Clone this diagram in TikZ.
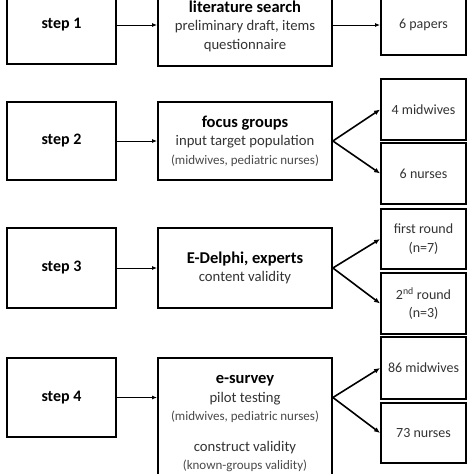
\documentclass[tikz,border=0pt]{standalone}
\usepackage{fontspec}
\setmainfont{Carlito}
\usetikzlibrary{arrows.meta}
\definecolor{subtxt}{HTML}{333333}
\definecolor{partxt}{HTML}{4A4A4A}
\tikzset{
  box/.style={draw=black, line width=1.8pt, fill=white, inner sep=0pt, align=center, text=black},
  stepbox/.style={box, minimum width=109pt, font=\fontsize{16}{18}\selectfont\bfseries},
  midbox/.style={box, minimum width=174pt, font=\fontsize{14.7}{18.5}\selectfont},
  resbox/.style={box, minimum width=85pt, minimum height=61pt, font=\fontsize{14}{18.5}\selectfont, text=subtxt},
  thinarr/.style={line width=1pt, -{Latex[length=5pt,width=4pt]}},
  thickarr/.style={line width=1.6pt, -{Latex[length=6pt,width=5pt]}}
}
\newcommand{\ttlx}[1]{{\bfseries\fontsize{16.5}{18.5}\selectfont #1}}
\newcommand{\subtx}[1]{{\color{subtxt}#1}}
\newcommand{\partx}[1]{{\color{partxt}\fontsize{13}{18.5}\selectfont #1}}
\begin{document}
\begin{tikzpicture}[x=1pt,y=-1pt]
\useasboundingbox (0,0) rectangle (474,474);
\clip (0,0) rectangle (474,474);
% step boxes
\node[stepbox, minimum height=78pt] (s1) at (61.5,25) {step 1};
\node[stepbox, minimum height=78pt] (s2) at (61.5,141) {step 2};
\node[stepbox, minimum height=80pt] (s3) at (61.5,268) {step 3};
\node[stepbox, minimum height=79pt] (s4) at (61.5,397.5) {step 4};
% middle boxes
\node[midbox, minimum height=80pt] (m1) at (245,26) {\ttlx{literature search}\\ \subtx{preliminary draft, items}\\ \subtx{questionnaire}};
\node[midbox, minimum height=78pt] (m2) at (245,141) {\ttlx{focus groups}\\ \subtx{input target population}\\ \partx{(midwives, pediatric nurses)}};
\node[midbox, minimum height=80pt] (m3) at (245,268) {\ttlx{E-Delphi, experts}\\ \subtx{content validity}};
\node[midbox, minimum height=132pt] (m4) at (245,424) {\ttlx{e-survey}\\ \subtx{pilot testing}\\ \partx{(midwives, pediatric nurses)}\\[12pt] \subtx{construct validity}\\ \partx{(known-groups validity)}};
% result boxes
\node[resbox, minimum height=60pt] (r1) at (423.5,25) {6 papers};
\node[resbox] (r2a) at (423.5,109.5) {4 midwives};
\node[resbox] (r2b) at (423.5,173.5) {6 nurses};
\node[resbox, minimum height=60pt] (r3a) at (423.5,239) {first round\\(n=7)};
\node[resbox] (r3b) at (423.5,303.5) {2\textsuperscript{nd} round\\(n=3)};
\node[resbox, minimum height=62pt] (r4a) at (423.5,368) {86 midwives};
\node[resbox, minimum height=60pt] (r4b) at (423.5,433) {73 nurses};
% arrows step -> method
\draw[thinarr] (s1.east) -- (s1.east -| m1.west);
\draw[thinarr] (s2.east) -- (s2.east -| m2.west);
\draw[thinarr] (s3.east) -- (s3.east -| m3.west);
\draw[thinarr] (s4.east) -- (s4.east -| m4.west);
% arrows method -> results
\draw[thinarr] (m1.east |- r1.west) -- (r1.west);
\draw[thickarr] (m2.east) -- (r2a.west);
\draw[thickarr] (m2.east) -- (r2b.west);
\draw[thickarr] (m3.east) -- (r3a.west);
\draw[thickarr] (m3.east) -- (r3b.west);
\draw[thickarr] (m4.east |- s4.east) -- (r4a.west);
\draw[thickarr] (m4.east |- s4.east) -- (r4b.west);
\end{tikzpicture}
\end{document}
